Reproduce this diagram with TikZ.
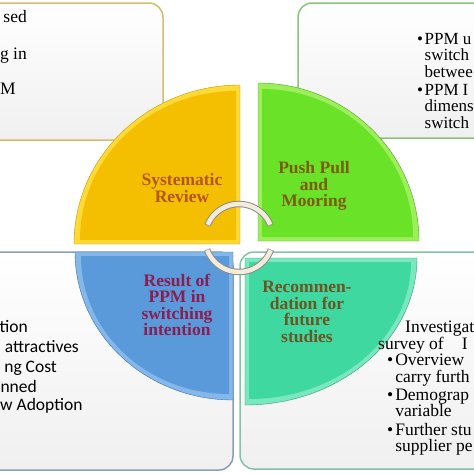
\documentclass[tikz,border=0pt]{standalone}
\usepackage{fontspec}
\setmainfont{Liberation Serif}
\newfontfamily\trm{Liberation Serif}
\newfontfamily\calibri{Carlito}

\definecolor{ylmain}{HTML}{F3BF00}
\definecolor{ylrim}{HTML}{FFD935}
\definecolor{ylline}{HTML}{C79C00}
\definecolor{grmain}{HTML}{6AE228}
\definecolor{grrim}{HTML}{9CEE5A}
\definecolor{grline}{HTML}{4CA81C}
\definecolor{blmain}{HTML}{5A9ADA}
\definecolor{blrim}{HTML}{84B8EA}
\definecolor{blline}{HTML}{3E72A8}
\definecolor{tlmain}{HTML}{3FD8A0}
\definecolor{tlrim}{HTML}{7AE7BF}
\definecolor{tlline}{HTML}{2AA379}
\definecolor{ylword}{HTML}{B5561C}
\definecolor{grword}{HTML}{7C5C0C}
\definecolor{blword}{HTML}{8A1E52}
\definecolor{tlword}{HTML}{6C5522}
\definecolor{tlbox}{HTML}{D0BF72}
\definecolor{trbox}{HTML}{8CC27C}
\definecolor{blbox}{HTML}{8AA0B8}
\definecolor{brbox}{HTML}{84C1A8}
\definecolor{cream}{HTML}{F3ECDA}

\tikzset{
	panel/.style={rounded corners=14pt, line width=1.5pt, top color=white, bottom color=black!6},
	qtext/.style={font=\trm\fontsize{17.5}{16.5}\selectfont\bfseries, align=center},
	serifline/.style={font=\trm\fontsize{17.5}{16}\selectfont, inner sep=0pt, anchor=base west},
	sansline/.style={font=\calibri\fontsize{17.5}{17.5}\selectfont, inner sep=0pt, anchor=base east},
	arcedge/.style={line width=6.5pt, draw=black!45},
	arcfill/.style={line width=4.5pt, draw=cream}
}

\begin{document}
\begin{tikzpicture}[x=1pt,y=-1pt]
		\useasboundingbox (0,0) rectangle (474,474);
		\clip (0,0) rectangle (474,474);
		\def\arcr{34};
		
		% text panels
		\draw[panel, draw=tlbox] (-30,3) rectangle (163,140);
		\draw[panel, draw=trbox] (298,3) rectangle (504,138);
		\draw[panel, draw=blbox] (-30,252) rectangle (233,470);
		\draw[panel, draw=brbox] (240,252) rectangle (504,469);
		
		% quadrants
		\fill[ylrim] (240,244) -- (74,244) arc[start angle=180,end angle=270,x radius=166,y radius=159] -- cycle;
		\fill[ylmain] (236,240) -- (80,240) arc[start angle=180,end angle=270,x radius=156,y radius=149] -- cycle;
		\draw[ylline] (240,244) -- (74,244) arc[start angle=180,end angle=270,x radius=166,y radius=159] -- cycle;
		
		\fill[grrim] (258,241) -- (258,83) arc[start angle=270,end angle=360,x radius=161,y radius=158] -- cycle;
		\fill[grmain] (262,237) -- (262,89) arc[start angle=270,end angle=360,x radius=151,y radius=148] -- cycle;
		\draw[grline] (258,241) -- (258,83) arc[start angle=270,end angle=360,x radius=161,y radius=158] -- cycle;
		
		\fill[blrim] (233,252) -- (75,252) arc[start angle=180,end angle=90,x radius=158,y radius=148] -- cycle;
		\fill[blmain] (229,256) -- (81,256) arc[start angle=180,end angle=90,x radius=148,y radius=138] -- cycle;
		\draw[blline] (233,252) -- (75,252) arc[start angle=180,end angle=90,x radius=158,y radius=148] -- cycle;
		
		\fill[tlrim] (245,258) -- (417,258) arc[start angle=0,end angle=90,x radius=172,y radius=147] -- cycle;
		\fill[tlmain] (249,262) -- (411,262) arc[start angle=0,end angle=90,x radius=162,y radius=137] -- cycle;
		\draw[tlline] (245,258) -- (417,258) arc[start angle=0,end angle=90,x radius=172,y radius=147] -- cycle;
		
		% cycle arcs
		\draw[arcedge] ([shift={(202:\arcr)}]239,238) arc[start angle=202,end angle=338,radius=\arcr];
		\draw[arcfill] ([shift={(203:\arcr)}]239,238) arc[start angle=203,end angle=337,radius=\arcr];
		\draw[arcedge] ([shift={(20:\arcr)}]239,238) arc[start angle=20,end angle=160,radius=\arcr];
		\draw[arcfill] ([shift={(21:\arcr)}]239,238) arc[start angle=21,end angle=159,radius=\arcr];
		
		% quadrant labels
		\node[qtext, text=ylword] (sysrev) at (182,188) {Systematic\\Review};
		\node[qtext, text=grword] (ppm) at (314,186) {Push Pull\\and\\Mooring};
		\node[qtext, text=blword] (result) at (177,305) {Result of\\PPM in\\switching\\intention};
		\node[qtext, text=tlword] (recom) at (307,312) {Recommen-\\dation for\\future\\studies};
		
		% top left panel
		\node[serifline, anchor=base east] (tl1) at (27,22) {sed};
		\node[serifline, anchor=base east] (tl2) at (27,59) {g in};
		\node[serifline] (tl3) at (0,94) {M};
		
		% top right panel
		\node[serifline, font=\trm\fontsize{17}{16}\selectfont] (tr1) at (417,44) {\begin{tabular}[t]{@{}l@{\kern1.5pt}l@{}}\textbullet & PPM u\\ & switch\\ & betwee\end{tabular}};
		\node[serifline, font=\trm\fontsize{17}{16}\selectfont] (tr2) at (417,95) {\begin{tabular}[t]{@{}l@{\kern1.5pt}l@{}}\textbullet & PPM\hspace{4pt}I\\ & dimens\\ & switch\end{tabular}};
		
		% bottom left panel
		\node[sansline] (bl1) at (28,332) {tion};
		\node[sansline] (bl2) at (79,352) {attractives};
		\node[sansline] (bl3) at (57,372) {ng Cost};
		\node[sansline] (bl4) at (37,392) {nned};
		\node[sansline, anchor=base west] (bl5) at (0,410) {w Adoption};
		
		% bottom right panel
		\node[serifline] (br1) at (378,332) {\begin{tabular}[t]{@{}l@{}}\hspace*{27pt}Investigat\\survey of\hspace{18pt}I\end{tabular}};
		\node[serifline] (br2) at (387,365) {\begin{tabular}[t]{@{}l@{\kern2pt}l@{}}\textbullet & Overview\\ & carry furth\end{tabular}};
		\node[serifline] (br3) at (387,400) {\begin{tabular}[t]{@{}l@{\kern2pt}l@{}}\textbullet & Demograp\\ & variable\end{tabular}};
		\node[serifline] (br4) at (387,435) {\begin{tabular}[t]{@{}l@{\kern2pt}l@{}}\textbullet & Further stu\\ & supplier pe\end{tabular}};
		\end{tikzpicture}
\end{document}
